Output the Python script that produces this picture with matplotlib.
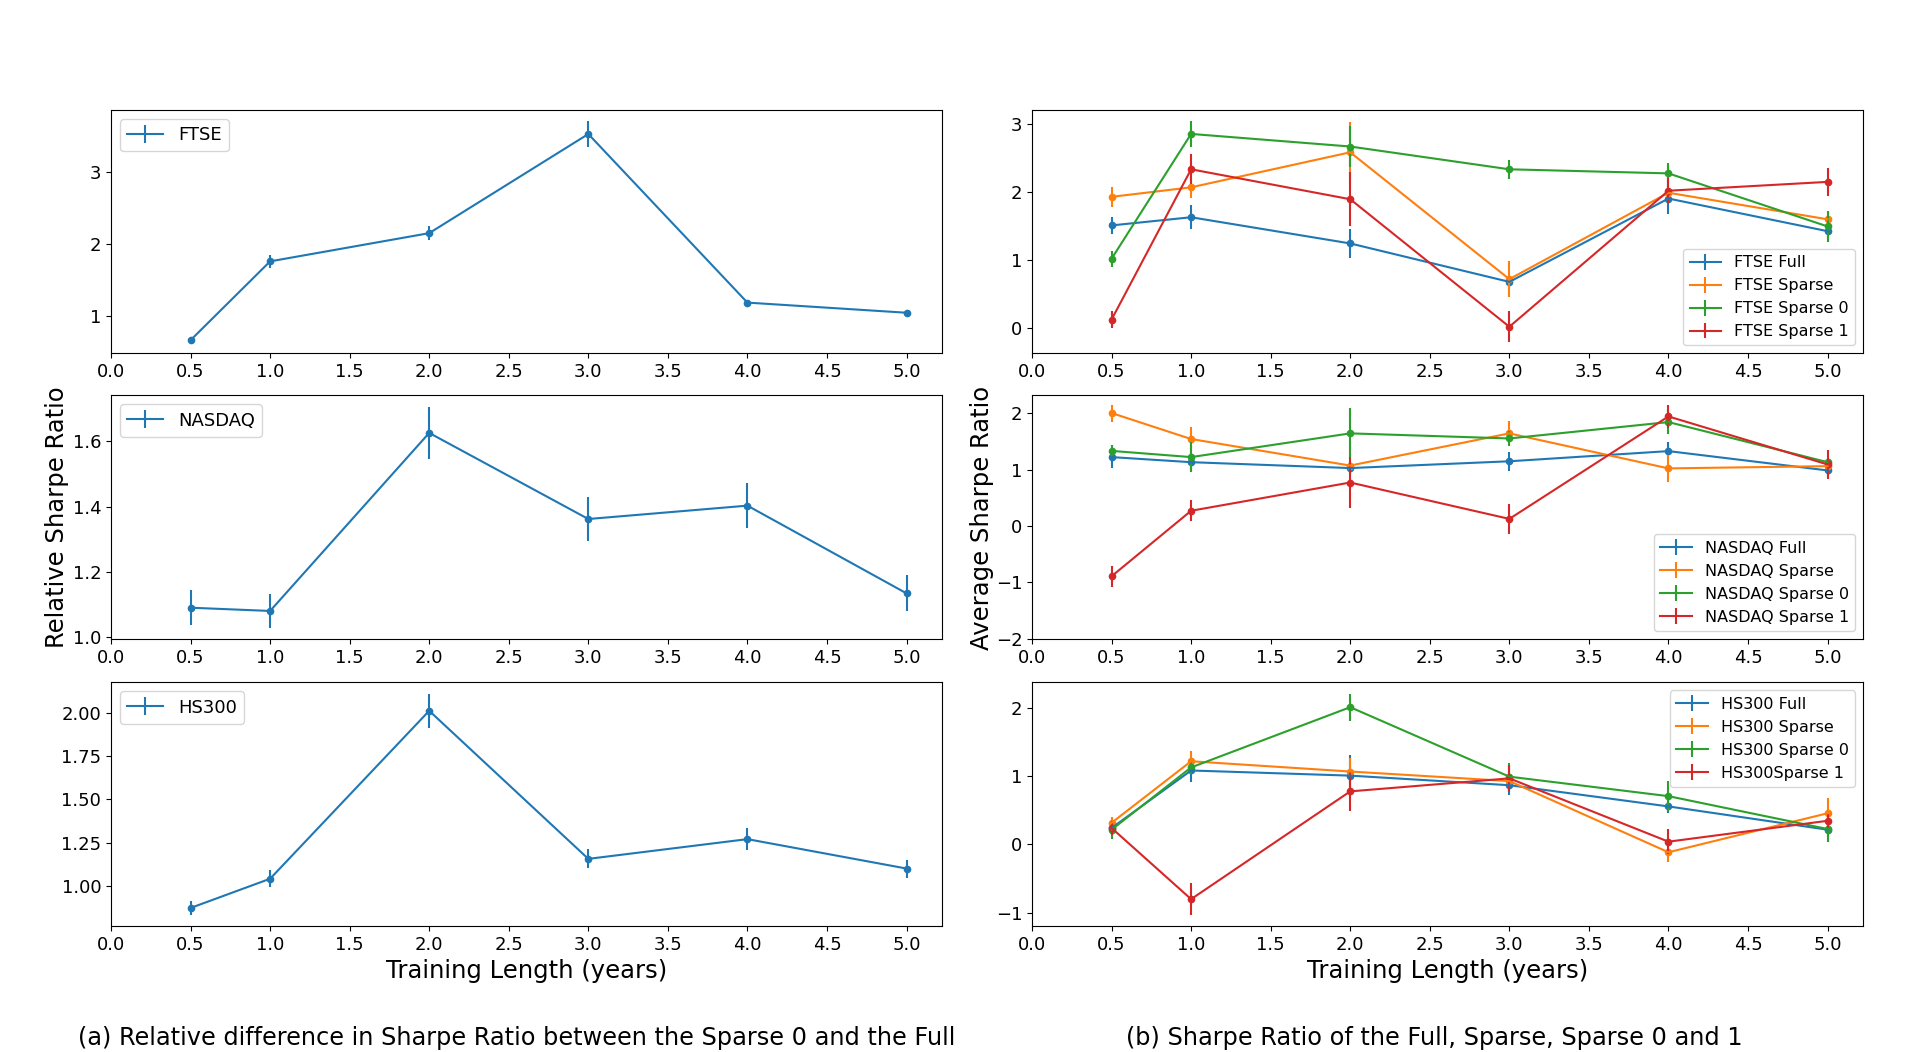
import matplotlib
matplotlib.use("Agg")
import matplotlib.pyplot as plt

# training lengths (years)
x = [0.5, 1.0, 2.0, 3.0, 4.0, 5.0]

# (a) relative Sharpe ratio, Sparse 0 vs Full
rel_ftse = [0.67, 1.76, 2.15, 3.52, 1.19, 1.05]
rel_ftse_err = [0.03, 0.09, 0.10, 0.18, 0.03, 0.03]
rel_nasdaq = [1.09, 1.08, 1.626, 1.362, 1.403, 1.134]
rel_nasdaq_err = [0.054, 0.052, 0.081, 0.068, 0.07, 0.055]
rel_hs300 = [0.872, 1.041, 2.012, 1.156, 1.27, 1.10]
rel_hs300_err = [0.04, 0.05, 0.10, 0.055, 0.062, 0.052]

# (b) average Sharpe ratio
ftse_full = [1.51, 1.63, 1.245, 0.68, 1.905, 1.425]
ftse_full_err = [0.13, 0.18, 0.21, 0.10, 0.22, 0.07]
ftse_sparse = [1.93, 2.07, 2.585, 0.72, 1.99, 1.60]
ftse_sparse_err = [0.15, 0.15, 0.45, 0.26, 0.10, 0.12]
ftse_sparse0 = [1.02, 2.855, 2.67, 2.335, 2.275, 1.495]
ftse_sparse0_err = [0.12, 0.19, 0.30, 0.14, 0.15, 0.23]
ftse_sparse1 = [0.125, 2.335, 1.895, 0.02, 2.02, 2.15]
ftse_sparse1_err = [0.12, 0.22, 0.40, 0.23, 0.18, 0.21]

nasdaq_full = [1.22, 1.13, 1.026, 1.146, 1.326, 0.984]
nasdaq_full_err = [0.19, 0.18, 0.10, 0.17, 0.16, 0.10]
nasdaq_sparse = [2.00, 1.54, 1.07, 1.64, 1.02, 1.06]
nasdaq_sparse_err = [0.15, 0.22, 0.10, 0.22, 0.24, 0.10]
nasdaq_sparse0 = [1.33, 1.22, 1.64, 1.55, 1.84, 1.13]
nasdaq_sparse0_err = [0.10, 0.26, 0.45, 0.13, 0.21, 0.08]
nasdaq_sparse1 = [-0.89, 0.27, 0.77, 0.126, 1.94, 1.09]
nasdaq_sparse1_err = [0.19, 0.19, 0.45, 0.26, 0.20, 0.26]

hs_full = [0.24, 1.08, 1.005, 0.865, 0.555, 0.215]
hs_full_err = [0.10, 0.17, 0.30, 0.15, 0.10, 0.10]
hs_sparse = [0.315, 1.215, 1.065, 0.925, -0.115, 0.455]
hs_sparse_err = [0.08, 0.15, 0.20, 0.15, 0.14, 0.23]
hs_sparse0 = [0.215, 1.125, 2.005, 0.99, 0.705, 0.225]
hs_sparse0_err = [0.13, 0.10, 0.20, 0.20, 0.22, 0.19]
hs_sparse1 = [0.24, -0.80, 0.775, 0.965, 0.04, 0.345]
hs_sparse1_err = [0.10, 0.23, 0.28, 0.20, 0.18, 0.10]

fs_tick = 13
fs_leg_right = 11.5
fs_label = 17.5

fig = plt.figure(figsize=(19.2, 10.52), dpi=100)

lefts = [0.0578, 0.5375]
w = 0.433
bottoms = [0.664, 0.3926, 0.1198]
h = 0.2315

axes = [[fig.add_axes([l, b, w, h]) for l in lefts] for b in bottoms]

def eb(ax, y, e, label):
    line = ax.errorbar(x, y, yerr=e, label=label)
    ax.plot(x, y, 'o', ms=4.5, color=line[0].get_color())

# left column
eb(axes[0][0], rel_ftse, rel_ftse_err, 'FTSE')
eb(axes[1][0], rel_nasdaq, rel_nasdaq_err, 'NASDAQ')
eb(axes[2][0], rel_hs300, rel_hs300_err, 'HS300')
for row in axes:
    row[0].legend(loc='upper left', fontsize=fs_tick)

# right column
eb(axes[0][1], ftse_full, ftse_full_err, 'FTSE Full')
eb(axes[0][1], ftse_sparse, ftse_sparse_err, 'FTSE Sparse')
eb(axes[0][1], ftse_sparse0, ftse_sparse0_err, 'FTSE Sparse 0')
eb(axes[0][1], ftse_sparse1, ftse_sparse1_err, 'FTSE Sparse 1')
axes[0][1].legend(loc='lower right', fontsize=fs_leg_right)

eb(axes[1][1], nasdaq_full, nasdaq_full_err, 'NASDAQ Full')
eb(axes[1][1], nasdaq_sparse, nasdaq_sparse_err, 'NASDAQ Sparse')
eb(axes[1][1], nasdaq_sparse0, nasdaq_sparse0_err, 'NASDAQ Sparse 0')
eb(axes[1][1], nasdaq_sparse1, nasdaq_sparse1_err, 'NASDAQ Sparse 1')
axes[1][1].set_ylim(bottom=-2)
axes[1][1].legend(loc='lower right', fontsize=fs_leg_right)

eb(axes[2][1], hs_full, hs_full_err, 'HS300 Full')
eb(axes[2][1], hs_sparse, hs_sparse_err, 'HS300 Sparse')
eb(axes[2][1], hs_sparse0, hs_sparse0_err, 'HS300 Sparse 0')
eb(axes[2][1], hs_sparse1, hs_sparse1_err, 'HS300Sparse 1')
axes[2][1].legend(loc='upper right', fontsize=fs_leg_right)

for row in axes:
    for ax in row:
        ax.set_xlim(left=0)
        ax.set_xticks([0, 0.5, 1, 1.5, 2, 2.5, 3, 3.5, 4, 4.5, 5])
        ax.tick_params(labelsize=fs_tick)

axes[2][0].set_xlabel('Training Length (years)', fontsize=fs_label)
axes[2][1].set_xlabel('Training Length (years)', fontsize=fs_label)

fig.text(0.0297, 0.508, 'Relative Sharpe Ratio', rotation=90, ha='center', va='center', fontsize=fs_label)
fig.text(0.5115, 0.508, 'Average Sharpe Ratio', rotation=90, ha='center', va='center', fontsize=fs_label)

fig.text(0.269, 0.013, '(a) Relative difference in Sharpe Ratio between the Sparse 0 and the Full',
         ha='center', va='center', fontsize=17.3)
fig.text(0.747, 0.013, '(b) Sharpe Ratio of the Full, Sparse, Sparse 0 and 1',
         ha='center', va='center', fontsize=17.3)

fig.savefig('out.png', dpi=100)
